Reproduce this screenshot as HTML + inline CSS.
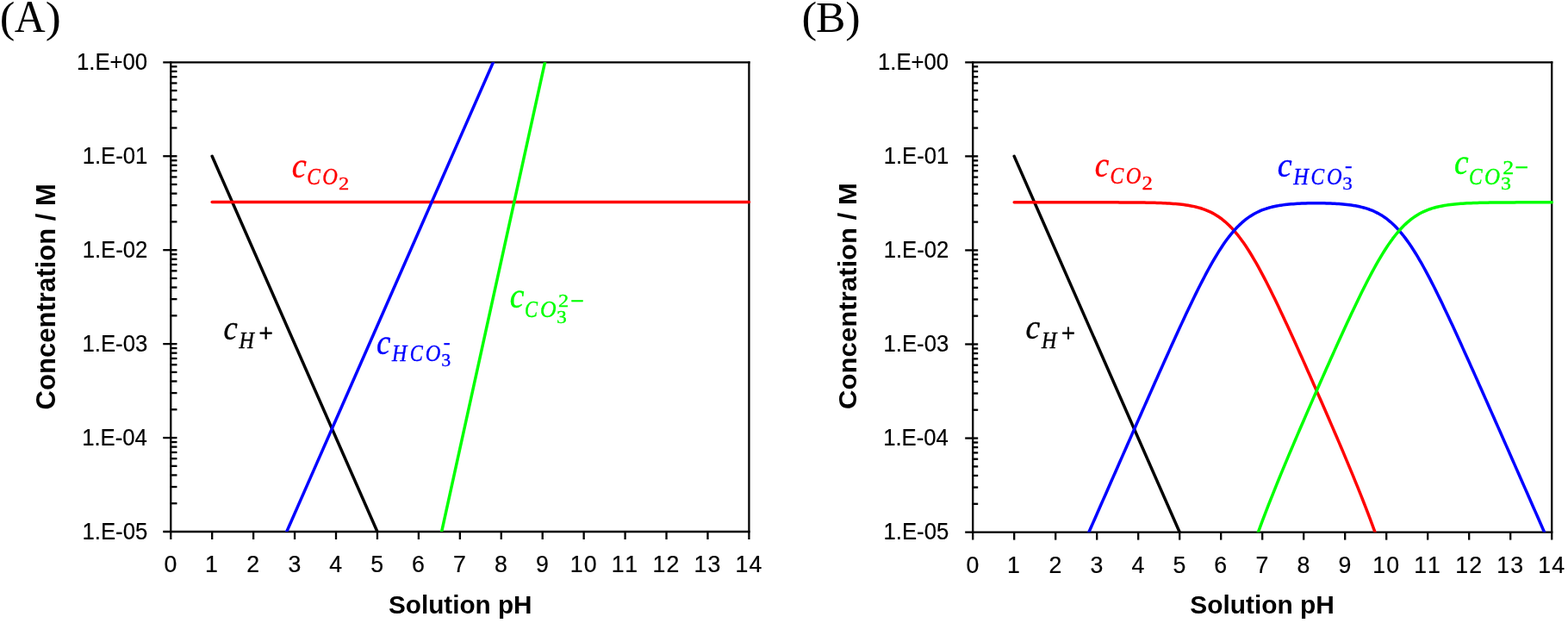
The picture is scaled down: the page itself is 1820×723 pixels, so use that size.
<!DOCTYPE html>
<html><head><meta charset="utf-8"><title>Carbonate speciation vs pH</title>
<style>html,body{margin:0;padding:0;background:#fff;} svg{display:block;}</style></head>
<body><svg width="1820" height="723" viewBox="0 0 1820 723">
<rect width="1820" height="723" fill="#fff"/>
<defs>
<clipPath id="clipA"><rect x="186.25" y="72.30" width="695.16" height="544.70"/></clipPath>
<clipPath id="clipB"><rect x="1117.20" y="72.30" width="696.00" height="545.30"/></clipPath>
</defs>
<g shape-rendering="auto">
<line x1="189.25" y1="72.30" x2="870.56" y2="72.30" stroke="#000" stroke-width="2.3" stroke-linecap="butt"/>
<line x1="189.25" y1="617.00" x2="870.56" y2="617.00" stroke="#000" stroke-width="2.3" stroke-linecap="butt"/>
<line x1="198.25" y1="71.15" x2="198.25" y2="626.00" stroke="#000" stroke-width="2.3" stroke-linecap="butt"/>
<line x1="869.41" y1="71.15" x2="869.41" y2="626.00" stroke="#000" stroke-width="2.3" stroke-linecap="butt"/>
<line x1="189.25" y1="181.24" x2="205.45" y2="181.24" stroke="#000" stroke-width="2.3" stroke-linecap="butt"/>
<line x1="189.25" y1="290.18" x2="205.45" y2="290.18" stroke="#000" stroke-width="2.3" stroke-linecap="butt"/>
<line x1="189.25" y1="399.12" x2="205.45" y2="399.12" stroke="#000" stroke-width="2.3" stroke-linecap="butt"/>
<line x1="189.25" y1="508.06" x2="205.45" y2="508.06" stroke="#000" stroke-width="2.3" stroke-linecap="butt"/>
<line x1="198.25" y1="148.45" x2="205.45" y2="148.45" stroke="#000" stroke-width="2.3" stroke-linecap="butt"/>
<line x1="198.25" y1="129.26" x2="205.45" y2="129.26" stroke="#000" stroke-width="2.3" stroke-linecap="butt"/>
<line x1="198.25" y1="115.65" x2="205.45" y2="115.65" stroke="#000" stroke-width="2.3" stroke-linecap="butt"/>
<line x1="198.25" y1="105.09" x2="205.45" y2="105.09" stroke="#000" stroke-width="2.3" stroke-linecap="butt"/>
<line x1="198.25" y1="96.47" x2="205.45" y2="96.47" stroke="#000" stroke-width="2.3" stroke-linecap="butt"/>
<line x1="198.25" y1="89.18" x2="205.45" y2="89.18" stroke="#000" stroke-width="2.3" stroke-linecap="butt"/>
<line x1="198.25" y1="82.86" x2="205.45" y2="82.86" stroke="#000" stroke-width="2.3" stroke-linecap="butt"/>
<line x1="198.25" y1="77.28" x2="205.45" y2="77.28" stroke="#000" stroke-width="2.3" stroke-linecap="butt"/>
<line x1="198.25" y1="257.39" x2="205.45" y2="257.39" stroke="#000" stroke-width="2.3" stroke-linecap="butt"/>
<line x1="198.25" y1="238.20" x2="205.45" y2="238.20" stroke="#000" stroke-width="2.3" stroke-linecap="butt"/>
<line x1="198.25" y1="224.59" x2="205.45" y2="224.59" stroke="#000" stroke-width="2.3" stroke-linecap="butt"/>
<line x1="198.25" y1="214.03" x2="205.45" y2="214.03" stroke="#000" stroke-width="2.3" stroke-linecap="butt"/>
<line x1="198.25" y1="205.41" x2="205.45" y2="205.41" stroke="#000" stroke-width="2.3" stroke-linecap="butt"/>
<line x1="198.25" y1="198.12" x2="205.45" y2="198.12" stroke="#000" stroke-width="2.3" stroke-linecap="butt"/>
<line x1="198.25" y1="191.80" x2="205.45" y2="191.80" stroke="#000" stroke-width="2.3" stroke-linecap="butt"/>
<line x1="198.25" y1="186.22" x2="205.45" y2="186.22" stroke="#000" stroke-width="2.3" stroke-linecap="butt"/>
<line x1="198.25" y1="366.33" x2="205.45" y2="366.33" stroke="#000" stroke-width="2.3" stroke-linecap="butt"/>
<line x1="198.25" y1="347.14" x2="205.45" y2="347.14" stroke="#000" stroke-width="2.3" stroke-linecap="butt"/>
<line x1="198.25" y1="333.53" x2="205.45" y2="333.53" stroke="#000" stroke-width="2.3" stroke-linecap="butt"/>
<line x1="198.25" y1="322.97" x2="205.45" y2="322.97" stroke="#000" stroke-width="2.3" stroke-linecap="butt"/>
<line x1="198.25" y1="314.35" x2="205.45" y2="314.35" stroke="#000" stroke-width="2.3" stroke-linecap="butt"/>
<line x1="198.25" y1="307.06" x2="205.45" y2="307.06" stroke="#000" stroke-width="2.3" stroke-linecap="butt"/>
<line x1="198.25" y1="300.74" x2="205.45" y2="300.74" stroke="#000" stroke-width="2.3" stroke-linecap="butt"/>
<line x1="198.25" y1="295.16" x2="205.45" y2="295.16" stroke="#000" stroke-width="2.3" stroke-linecap="butt"/>
<line x1="198.25" y1="475.27" x2="205.45" y2="475.27" stroke="#000" stroke-width="2.3" stroke-linecap="butt"/>
<line x1="198.25" y1="456.08" x2="205.45" y2="456.08" stroke="#000" stroke-width="2.3" stroke-linecap="butt"/>
<line x1="198.25" y1="442.47" x2="205.45" y2="442.47" stroke="#000" stroke-width="2.3" stroke-linecap="butt"/>
<line x1="198.25" y1="431.91" x2="205.45" y2="431.91" stroke="#000" stroke-width="2.3" stroke-linecap="butt"/>
<line x1="198.25" y1="423.29" x2="205.45" y2="423.29" stroke="#000" stroke-width="2.3" stroke-linecap="butt"/>
<line x1="198.25" y1="416.00" x2="205.45" y2="416.00" stroke="#000" stroke-width="2.3" stroke-linecap="butt"/>
<line x1="198.25" y1="409.68" x2="205.45" y2="409.68" stroke="#000" stroke-width="2.3" stroke-linecap="butt"/>
<line x1="198.25" y1="404.10" x2="205.45" y2="404.10" stroke="#000" stroke-width="2.3" stroke-linecap="butt"/>
<line x1="198.25" y1="584.21" x2="205.45" y2="584.21" stroke="#000" stroke-width="2.3" stroke-linecap="butt"/>
<line x1="198.25" y1="565.02" x2="205.45" y2="565.02" stroke="#000" stroke-width="2.3" stroke-linecap="butt"/>
<line x1="198.25" y1="551.41" x2="205.45" y2="551.41" stroke="#000" stroke-width="2.3" stroke-linecap="butt"/>
<line x1="198.25" y1="540.85" x2="205.45" y2="540.85" stroke="#000" stroke-width="2.3" stroke-linecap="butt"/>
<line x1="198.25" y1="532.23" x2="205.45" y2="532.23" stroke="#000" stroke-width="2.3" stroke-linecap="butt"/>
<line x1="198.25" y1="524.94" x2="205.45" y2="524.94" stroke="#000" stroke-width="2.3" stroke-linecap="butt"/>
<line x1="198.25" y1="518.62" x2="205.45" y2="518.62" stroke="#000" stroke-width="2.3" stroke-linecap="butt"/>
<line x1="198.25" y1="513.04" x2="205.45" y2="513.04" stroke="#000" stroke-width="2.3" stroke-linecap="butt"/>
<line x1="246.19" y1="617.00" x2="246.19" y2="626.00" stroke="#000" stroke-width="2.3" stroke-linecap="butt"/>
<line x1="294.13" y1="617.00" x2="294.13" y2="626.00" stroke="#000" stroke-width="2.3" stroke-linecap="butt"/>
<line x1="342.07" y1="617.00" x2="342.07" y2="626.00" stroke="#000" stroke-width="2.3" stroke-linecap="butt"/>
<line x1="390.01" y1="617.00" x2="390.01" y2="626.00" stroke="#000" stroke-width="2.3" stroke-linecap="butt"/>
<line x1="437.95" y1="617.00" x2="437.95" y2="626.00" stroke="#000" stroke-width="2.3" stroke-linecap="butt"/>
<line x1="485.89" y1="617.00" x2="485.89" y2="626.00" stroke="#000" stroke-width="2.3" stroke-linecap="butt"/>
<line x1="533.83" y1="617.00" x2="533.83" y2="626.00" stroke="#000" stroke-width="2.3" stroke-linecap="butt"/>
<line x1="581.77" y1="617.00" x2="581.77" y2="626.00" stroke="#000" stroke-width="2.3" stroke-linecap="butt"/>
<line x1="629.71" y1="617.00" x2="629.71" y2="626.00" stroke="#000" stroke-width="2.3" stroke-linecap="butt"/>
<line x1="677.65" y1="617.00" x2="677.65" y2="626.00" stroke="#000" stroke-width="2.3" stroke-linecap="butt"/>
<line x1="725.59" y1="617.00" x2="725.59" y2="626.00" stroke="#000" stroke-width="2.3" stroke-linecap="butt"/>
<line x1="773.53" y1="617.00" x2="773.53" y2="626.00" stroke="#000" stroke-width="2.3" stroke-linecap="butt"/>
<line x1="821.47" y1="617.00" x2="821.47" y2="626.00" stroke="#000" stroke-width="2.3" stroke-linecap="butt"/>
<line x1="1120.20" y1="72.30" x2="1802.35" y2="72.30" stroke="#000" stroke-width="2.3" stroke-linecap="butt"/>
<line x1="1120.20" y1="617.60" x2="1802.35" y2="617.60" stroke="#000" stroke-width="2.3" stroke-linecap="butt"/>
<line x1="1129.20" y1="71.15" x2="1129.20" y2="626.60" stroke="#000" stroke-width="2.3" stroke-linecap="butt"/>
<line x1="1801.20" y1="71.15" x2="1801.20" y2="626.60" stroke="#000" stroke-width="2.3" stroke-linecap="butt"/>
<line x1="1120.20" y1="181.36" x2="1135.20" y2="181.36" stroke="#000" stroke-width="2.3" stroke-linecap="butt"/>
<line x1="1120.20" y1="290.42" x2="1135.20" y2="290.42" stroke="#000" stroke-width="2.3" stroke-linecap="butt"/>
<line x1="1120.20" y1="399.48" x2="1135.20" y2="399.48" stroke="#000" stroke-width="2.3" stroke-linecap="butt"/>
<line x1="1120.20" y1="508.54" x2="1135.20" y2="508.54" stroke="#000" stroke-width="2.3" stroke-linecap="butt"/>
<line x1="1129.20" y1="148.53" x2="1135.20" y2="148.53" stroke="#000" stroke-width="2.3" stroke-linecap="butt"/>
<line x1="1129.20" y1="129.33" x2="1135.20" y2="129.33" stroke="#000" stroke-width="2.3" stroke-linecap="butt"/>
<line x1="1129.20" y1="115.70" x2="1135.20" y2="115.70" stroke="#000" stroke-width="2.3" stroke-linecap="butt"/>
<line x1="1129.20" y1="105.13" x2="1135.20" y2="105.13" stroke="#000" stroke-width="2.3" stroke-linecap="butt"/>
<line x1="1129.20" y1="96.49" x2="1135.20" y2="96.49" stroke="#000" stroke-width="2.3" stroke-linecap="butt"/>
<line x1="1129.20" y1="89.19" x2="1135.20" y2="89.19" stroke="#000" stroke-width="2.3" stroke-linecap="butt"/>
<line x1="1129.20" y1="82.87" x2="1135.20" y2="82.87" stroke="#000" stroke-width="2.3" stroke-linecap="butt"/>
<line x1="1129.20" y1="77.29" x2="1135.20" y2="77.29" stroke="#000" stroke-width="2.3" stroke-linecap="butt"/>
<line x1="1129.20" y1="257.59" x2="1135.20" y2="257.59" stroke="#000" stroke-width="2.3" stroke-linecap="butt"/>
<line x1="1129.20" y1="238.39" x2="1135.20" y2="238.39" stroke="#000" stroke-width="2.3" stroke-linecap="butt"/>
<line x1="1129.20" y1="224.76" x2="1135.20" y2="224.76" stroke="#000" stroke-width="2.3" stroke-linecap="butt"/>
<line x1="1129.20" y1="214.19" x2="1135.20" y2="214.19" stroke="#000" stroke-width="2.3" stroke-linecap="butt"/>
<line x1="1129.20" y1="205.55" x2="1135.20" y2="205.55" stroke="#000" stroke-width="2.3" stroke-linecap="butt"/>
<line x1="1129.20" y1="198.25" x2="1135.20" y2="198.25" stroke="#000" stroke-width="2.3" stroke-linecap="butt"/>
<line x1="1129.20" y1="191.93" x2="1135.20" y2="191.93" stroke="#000" stroke-width="2.3" stroke-linecap="butt"/>
<line x1="1129.20" y1="186.35" x2="1135.20" y2="186.35" stroke="#000" stroke-width="2.3" stroke-linecap="butt"/>
<line x1="1129.20" y1="366.65" x2="1135.20" y2="366.65" stroke="#000" stroke-width="2.3" stroke-linecap="butt"/>
<line x1="1129.20" y1="347.45" x2="1135.20" y2="347.45" stroke="#000" stroke-width="2.3" stroke-linecap="butt"/>
<line x1="1129.20" y1="333.82" x2="1135.20" y2="333.82" stroke="#000" stroke-width="2.3" stroke-linecap="butt"/>
<line x1="1129.20" y1="323.25" x2="1135.20" y2="323.25" stroke="#000" stroke-width="2.3" stroke-linecap="butt"/>
<line x1="1129.20" y1="314.61" x2="1135.20" y2="314.61" stroke="#000" stroke-width="2.3" stroke-linecap="butt"/>
<line x1="1129.20" y1="307.31" x2="1135.20" y2="307.31" stroke="#000" stroke-width="2.3" stroke-linecap="butt"/>
<line x1="1129.20" y1="300.99" x2="1135.20" y2="300.99" stroke="#000" stroke-width="2.3" stroke-linecap="butt"/>
<line x1="1129.20" y1="295.41" x2="1135.20" y2="295.41" stroke="#000" stroke-width="2.3" stroke-linecap="butt"/>
<line x1="1129.20" y1="475.71" x2="1135.20" y2="475.71" stroke="#000" stroke-width="2.3" stroke-linecap="butt"/>
<line x1="1129.20" y1="456.51" x2="1135.20" y2="456.51" stroke="#000" stroke-width="2.3" stroke-linecap="butt"/>
<line x1="1129.20" y1="442.88" x2="1135.20" y2="442.88" stroke="#000" stroke-width="2.3" stroke-linecap="butt"/>
<line x1="1129.20" y1="432.31" x2="1135.20" y2="432.31" stroke="#000" stroke-width="2.3" stroke-linecap="butt"/>
<line x1="1129.20" y1="423.67" x2="1135.20" y2="423.67" stroke="#000" stroke-width="2.3" stroke-linecap="butt"/>
<line x1="1129.20" y1="416.37" x2="1135.20" y2="416.37" stroke="#000" stroke-width="2.3" stroke-linecap="butt"/>
<line x1="1129.20" y1="410.05" x2="1135.20" y2="410.05" stroke="#000" stroke-width="2.3" stroke-linecap="butt"/>
<line x1="1129.20" y1="404.47" x2="1135.20" y2="404.47" stroke="#000" stroke-width="2.3" stroke-linecap="butt"/>
<line x1="1129.20" y1="584.77" x2="1135.20" y2="584.77" stroke="#000" stroke-width="2.3" stroke-linecap="butt"/>
<line x1="1129.20" y1="565.57" x2="1135.20" y2="565.57" stroke="#000" stroke-width="2.3" stroke-linecap="butt"/>
<line x1="1129.20" y1="551.94" x2="1135.20" y2="551.94" stroke="#000" stroke-width="2.3" stroke-linecap="butt"/>
<line x1="1129.20" y1="541.37" x2="1135.20" y2="541.37" stroke="#000" stroke-width="2.3" stroke-linecap="butt"/>
<line x1="1129.20" y1="532.73" x2="1135.20" y2="532.73" stroke="#000" stroke-width="2.3" stroke-linecap="butt"/>
<line x1="1129.20" y1="525.43" x2="1135.20" y2="525.43" stroke="#000" stroke-width="2.3" stroke-linecap="butt"/>
<line x1="1129.20" y1="519.11" x2="1135.20" y2="519.11" stroke="#000" stroke-width="2.3" stroke-linecap="butt"/>
<line x1="1129.20" y1="513.53" x2="1135.20" y2="513.53" stroke="#000" stroke-width="2.3" stroke-linecap="butt"/>
<line x1="1177.20" y1="617.60" x2="1177.20" y2="626.60" stroke="#000" stroke-width="2.3" stroke-linecap="butt"/>
<line x1="1225.20" y1="617.60" x2="1225.20" y2="626.60" stroke="#000" stroke-width="2.3" stroke-linecap="butt"/>
<line x1="1273.20" y1="617.60" x2="1273.20" y2="626.60" stroke="#000" stroke-width="2.3" stroke-linecap="butt"/>
<line x1="1321.20" y1="617.60" x2="1321.20" y2="626.60" stroke="#000" stroke-width="2.3" stroke-linecap="butt"/>
<line x1="1369.20" y1="617.60" x2="1369.20" y2="626.60" stroke="#000" stroke-width="2.3" stroke-linecap="butt"/>
<line x1="1417.20" y1="617.60" x2="1417.20" y2="626.60" stroke="#000" stroke-width="2.3" stroke-linecap="butt"/>
<line x1="1465.20" y1="617.60" x2="1465.20" y2="626.60" stroke="#000" stroke-width="2.3" stroke-linecap="butt"/>
<line x1="1513.20" y1="617.60" x2="1513.20" y2="626.60" stroke="#000" stroke-width="2.3" stroke-linecap="butt"/>
<line x1="1561.20" y1="617.60" x2="1561.20" y2="626.60" stroke="#000" stroke-width="2.3" stroke-linecap="butt"/>
<line x1="1609.20" y1="617.60" x2="1609.20" y2="626.60" stroke="#000" stroke-width="2.3" stroke-linecap="butt"/>
<line x1="1657.20" y1="617.60" x2="1657.20" y2="626.60" stroke="#000" stroke-width="2.3" stroke-linecap="butt"/>
<line x1="1705.20" y1="617.60" x2="1705.20" y2="626.60" stroke="#000" stroke-width="2.3" stroke-linecap="butt"/>
<line x1="1753.20" y1="617.60" x2="1753.20" y2="626.60" stroke="#000" stroke-width="2.3" stroke-linecap="butt"/>
<path d="M246.19,181.24 L441.79,625.72" fill="none" stroke="#000000" stroke-width="3.5" stroke-linecap="round" stroke-linejoin="round" clip-path="url(#clipA)"/>
<path d="M246.19,234.62 L869.41,234.62" fill="none" stroke="#ff0000" stroke-width="3.5" stroke-linecap="round" stroke-linejoin="round" clip-path="url(#clipA)"/>
<path d="M328.93,625.72 L366.04,541.40 L533.83,160.11 L576.30,63.58" fill="none" stroke="#0000ff" stroke-width="3.5" stroke-linecap="round" stroke-linejoin="round" clip-path="url(#clipA)"/>
<path d="M510.72,625.72 L533.83,520.70 L634.41,63.58" fill="none" stroke="#00ff00" stroke-width="3.5" stroke-linecap="round" stroke-linejoin="round" clip-path="url(#clipA)"/>
<path d="M1177.20,181.36 L1373.04,626.32" fill="none" stroke="#000000" stroke-width="3.5" stroke-linecap="round" stroke-linejoin="round" clip-path="url(#clipB)"/>
<path d="M1177.20,234.80 L1179.60,234.80 L1182.00,234.80 L1184.40,234.80 L1186.80,234.80 L1189.20,234.80 L1191.60,234.80 L1194.00,234.80 L1196.40,234.80 L1198.80,234.80 L1201.20,234.80 L1203.60,234.80 L1206.00,234.80 L1208.40,234.80 L1210.80,234.80 L1213.20,234.80 L1215.60,234.80 L1218.00,234.80 L1220.40,234.80 L1222.80,234.80 L1225.20,234.80 L1227.60,234.80 L1230.00,234.80 L1232.40,234.80 L1234.80,234.80 L1237.20,234.80 L1239.60,234.80 L1242.00,234.80 L1244.40,234.81 L1246.80,234.81 L1249.20,234.81 L1251.60,234.81 L1254.00,234.81 L1256.40,234.81 L1258.80,234.81 L1261.20,234.81 L1263.60,234.81 L1266.00,234.82 L1268.40,234.82 L1270.80,234.82 L1273.20,234.82 L1275.60,234.83 L1278.00,234.83 L1280.40,234.83 L1282.80,234.84 L1285.20,234.84 L1287.60,234.85 L1290.00,234.85 L1292.40,234.86 L1294.80,234.86 L1297.20,234.87 L1299.60,234.88 L1302.00,234.89 L1304.40,234.90 L1306.80,234.91 L1309.20,234.93 L1311.60,234.94 L1314.00,234.96 L1316.40,234.98 L1318.80,235.00 L1321.20,235.03 L1323.60,235.06 L1326.00,235.09 L1328.40,235.12 L1330.80,235.16 L1333.20,235.20 L1335.60,235.25 L1338.00,235.31 L1340.40,235.37 L1342.80,235.44 L1345.20,235.52 L1347.60,235.60 L1350.00,235.70 L1352.40,235.81 L1354.80,235.93 L1357.20,236.07 L1359.60,236.22 L1362.00,236.39 L1364.40,236.58 L1366.80,236.80 L1369.20,237.03 L1371.60,237.30 L1374.00,237.60 L1376.40,237.93 L1378.80,238.29 L1381.20,238.70 L1383.60,239.16 L1386.00,239.66 L1388.40,240.22 L1390.80,240.85 L1393.20,241.53 L1395.60,242.29 L1398.00,243.13 L1400.40,244.05 L1402.80,245.07 L1405.20,246.18 L1407.60,247.40 L1410.00,248.73 L1412.40,250.18 L1414.80,251.76 L1417.20,253.47 L1419.60,255.31 L1422.00,257.30 L1424.40,259.44 L1426.80,261.73 L1429.20,264.17 L1431.60,266.77 L1434.00,269.52 L1436.40,272.43 L1438.80,275.50 L1441.20,278.72 L1443.60,282.09 L1446.00,285.61 L1448.40,289.27 L1450.80,293.06 L1453.20,296.99 L1455.60,301.03 L1458.00,305.20 L1460.40,309.47 L1462.80,313.85 L1465.20,318.33 L1467.60,322.89 L1470.00,327.54 L1472.40,332.26 L1474.80,337.06 L1477.20,341.91 L1479.60,346.83 L1482.00,351.80 L1484.40,356.83 L1486.80,361.89 L1489.20,367.00 L1491.60,372.14 L1494.00,377.32 L1496.40,382.53 L1498.80,387.77 L1501.20,393.03 L1503.60,398.31 L1506.00,403.62 L1508.40,408.95 L1510.80,414.29 L1513.20,419.65 L1515.60,425.03 L1518.00,430.42 L1520.40,435.83 L1522.80,441.24 L1525.20,446.68 L1527.60,452.12 L1530.00,457.58 L1532.40,463.04 L1534.80,468.52 L1537.20,474.02 L1539.60,479.53 L1542.00,485.05 L1544.40,490.58 L1546.80,496.14 L1549.20,501.71 L1551.60,507.30 L1554.00,512.91 L1556.40,518.54 L1558.80,524.19 L1561.20,529.87 L1563.60,535.59 L1566.00,541.33 L1568.40,547.11 L1570.80,552.93 L1573.20,558.79 L1575.60,564.70 L1578.00,570.65 L1580.40,576.67 L1582.80,582.75 L1585.20,588.89 L1587.60,595.11 L1590.00,601.41 L1592.40,607.79 L1594.80,614.27 L1597.20,620.85 L1599.17,626.32" fill="none" stroke="#ff0000" stroke-width="3.5" stroke-linecap="round" stroke-linejoin="round" clip-path="url(#clipB)"/>
<path d="M1260.05,626.32 L1261.20,623.72 L1263.60,618.27 L1266.00,612.82 L1268.40,607.37 L1270.80,601.92 L1273.20,596.47 L1275.60,591.02 L1278.00,585.57 L1280.40,580.12 L1282.80,574.67 L1285.20,569.22 L1287.60,563.77 L1290.00,558.32 L1292.40,552.88 L1294.80,547.43 L1297.20,541.98 L1299.60,536.54 L1302.00,531.10 L1304.40,525.66 L1306.80,520.21 L1309.20,514.78 L1311.60,509.34 L1314.00,503.90 L1316.40,498.47 L1318.80,493.04 L1321.20,487.61 L1323.60,482.19 L1326.00,476.76 L1328.40,471.35 L1330.80,465.93 L1333.20,460.52 L1335.60,455.12 L1338.00,449.72 L1340.40,444.33 L1342.80,438.95 L1345.20,433.57 L1347.60,428.20 L1350.00,422.85 L1352.40,417.50 L1354.80,412.17 L1357.20,406.86 L1359.60,401.56 L1362.00,396.27 L1364.40,391.01 L1366.80,385.77 L1369.20,380.56 L1371.60,375.37 L1374.00,370.21 L1376.40,365.09 L1378.80,360.00 L1381.20,354.96 L1383.60,349.96 L1386.00,345.02 L1388.40,340.12 L1390.80,335.29 L1393.20,330.53 L1395.60,325.83 L1398.00,321.22 L1400.40,316.69 L1402.80,312.25 L1405.20,307.91 L1407.60,303.68 L1410.00,299.55 L1412.40,295.55 L1414.80,291.67 L1417.20,287.93 L1419.60,284.32 L1422.00,280.86 L1424.40,277.54 L1426.80,274.38 L1429.20,271.37 L1431.60,268.51 L1434.00,265.81 L1436.40,263.27 L1438.80,260.89 L1441.20,258.66 L1443.60,256.57 L1446.00,254.64 L1448.40,252.84 L1450.80,251.18 L1453.20,249.65 L1455.60,248.25 L1458.00,246.96 L1460.40,245.78 L1462.80,244.71 L1465.20,243.73 L1467.60,242.84 L1470.00,242.04 L1472.40,241.31 L1474.80,240.65 L1477.20,240.05 L1479.60,239.52 L1482.00,239.04 L1484.40,238.60 L1486.80,238.22 L1489.20,237.87 L1491.60,237.56 L1494.00,237.29 L1496.40,237.04 L1498.80,236.83 L1501.20,236.64 L1503.60,236.47 L1506.00,236.32 L1508.40,236.20 L1510.80,236.09 L1513.20,236.00 L1515.60,235.92 L1518.00,235.86 L1520.40,235.81 L1522.80,235.78 L1525.20,235.75 L1527.60,235.74 L1530.00,235.75 L1532.40,235.76 L1534.80,235.79 L1537.20,235.83 L1539.60,235.89 L1542.00,235.96 L1544.40,236.04 L1546.80,236.14 L1549.20,236.26 L1551.60,236.39 L1554.00,236.55 L1556.40,236.73 L1558.80,236.93 L1561.20,237.16 L1563.60,237.42 L1566.00,237.71 L1568.40,238.03 L1570.80,238.40 L1573.20,238.81 L1575.60,239.26 L1578.00,239.77 L1580.40,240.33 L1582.80,240.95 L1585.20,241.65 L1587.60,242.41 L1590.00,243.26 L1592.40,244.19 L1594.80,245.21 L1597.20,246.34 L1599.60,247.57 L1602.00,248.91 L1604.40,250.37 L1606.80,251.96 L1609.20,253.69 L1611.60,255.55 L1614.00,257.55 L1616.40,259.71 L1618.80,262.01 L1621.20,264.47 L1623.60,267.09 L1626.00,269.86 L1628.40,272.79 L1630.80,275.88 L1633.20,279.12 L1635.60,282.50 L1638.00,286.04 L1640.40,289.71 L1642.80,293.52 L1645.20,297.46 L1647.60,301.52 L1650.00,305.69 L1652.40,309.98 L1654.80,314.37 L1657.20,318.85 L1659.60,323.42 L1662.00,328.08 L1664.40,332.80 L1666.80,337.60 L1669.20,342.46 L1671.60,347.38 L1674.00,352.36 L1676.40,357.38 L1678.80,362.44 L1681.20,367.54 L1683.60,372.68 L1686.00,377.86 L1688.40,383.06 L1690.80,388.28 L1693.20,393.54 L1695.60,398.81 L1698.00,404.10 L1700.40,409.41 L1702.80,414.73 L1705.20,420.07 L1707.60,425.42 L1710.00,430.78 L1712.40,436.15 L1714.80,441.53 L1717.20,446.92 L1719.60,452.31 L1722.00,457.71 L1724.40,463.12 L1726.80,468.53 L1729.20,473.95 L1731.60,479.37 L1734.00,484.79 L1736.40,490.22 L1738.80,495.65 L1741.20,501.08 L1743.60,506.51 L1746.00,511.95 L1748.40,517.39 L1750.80,522.83 L1753.20,528.27 L1755.60,533.71 L1758.00,539.15 L1760.40,544.60 L1762.80,550.04 L1765.20,555.49 L1767.60,560.94 L1770.00,566.38 L1772.40,571.83 L1774.80,577.28 L1777.20,582.73 L1779.60,588.18 L1782.00,593.63 L1784.40,599.08 L1786.80,604.53 L1789.20,609.98 L1791.60,615.43 L1794.00,620.89 L1796.39,626.32" fill="none" stroke="#0000ff" stroke-width="3.5" stroke-linecap="round" stroke-linejoin="round" clip-path="url(#clipB)"/>
<path d="M1457.28,626.32 L1458.00,624.31 L1460.40,617.68 L1462.80,611.15 L1465.20,604.72 L1467.60,598.38 L1470.00,592.12 L1472.40,585.94 L1474.80,579.82 L1477.20,573.78 L1479.60,567.79 L1482.00,561.85 L1484.40,555.97 L1486.80,550.13 L1489.20,544.33 L1491.60,538.57 L1494.00,532.84 L1496.40,527.14 L1498.80,521.47 L1501.20,515.83 L1503.60,510.21 L1506.00,504.61 L1508.40,499.03 L1510.80,493.47 L1513.20,487.93 L1515.60,482.40 L1518.00,476.88 L1520.40,471.38 L1522.80,465.89 L1525.20,460.42 L1527.60,454.95 L1530.00,449.50 L1532.40,444.07 L1534.80,438.64 L1537.20,433.23 L1539.60,427.83 L1542.00,422.45 L1544.40,417.08 L1546.80,411.73 L1549.20,406.39 L1551.60,401.07 L1554.00,395.78 L1556.40,390.50 L1558.80,385.25 L1561.20,380.03 L1563.60,374.83 L1566.00,369.67 L1568.40,364.54 L1570.80,359.45 L1573.20,354.41 L1575.60,349.41 L1578.00,344.46 L1580.40,339.57 L1582.80,334.75 L1585.20,329.99 L1587.60,325.30 L1590.00,320.69 L1592.40,316.17 L1594.80,311.74 L1597.20,307.41 L1599.60,303.19 L1602.00,299.08 L1604.40,295.09 L1606.80,291.22 L1609.20,287.50 L1611.60,283.90 L1614.00,280.46 L1616.40,277.16 L1618.80,274.01 L1621.20,271.02 L1623.60,268.18 L1626.00,265.50 L1628.40,262.98 L1630.80,260.61 L1633.20,258.39 L1635.60,256.33 L1638.00,254.41 L1640.40,252.63 L1642.80,250.99 L1645.20,249.47 L1647.60,248.08 L1650.00,246.80 L1652.40,245.63 L1654.80,244.57 L1657.20,243.60 L1659.60,242.72 L1662.00,241.92 L1664.40,241.19 L1666.80,240.54 L1669.20,239.95 L1671.60,239.41 L1674.00,238.93 L1676.40,238.50 L1678.80,238.11 L1681.20,237.76 L1683.60,237.45 L1686.00,237.17 L1688.40,236.92 L1690.80,236.69 L1693.20,236.49 L1695.60,236.31 L1698.00,236.15 L1700.40,236.00 L1702.80,235.87 L1705.20,235.76 L1707.60,235.65 L1710.00,235.56 L1712.40,235.48 L1714.80,235.41 L1717.20,235.34 L1719.60,235.28 L1722.00,235.23 L1724.40,235.18 L1726.80,235.14 L1729.20,235.10 L1731.60,235.07 L1734.00,235.04 L1736.40,235.02 L1738.80,234.99 L1741.20,234.97 L1743.60,234.95 L1746.00,234.94 L1748.40,234.92 L1750.80,234.91 L1753.20,234.90 L1755.60,234.89 L1758.00,234.88 L1760.40,234.87 L1762.80,234.86 L1765.20,234.85 L1767.60,234.85 L1770.00,234.84 L1772.40,234.84 L1774.80,234.83 L1777.20,234.83 L1779.60,234.83 L1782.00,234.82 L1784.40,234.82 L1786.80,234.82 L1789.20,234.82 L1791.60,234.81 L1794.00,234.81 L1796.40,234.81 L1798.80,234.81 L1801.20,234.81" fill="none" stroke="#00ff00" stroke-width="3.5" stroke-linecap="round" stroke-linejoin="round" clip-path="url(#clipB)"/>
</g>
<g>
<text transform="matrix(0.26415,0,0,0.25275,-0.313,36.832)" font-family="'Liberation Serif', 'Times New Roman', serif" font-size="200" fill="#000">(</text><text transform="matrix(0.24859,0,0,0.26061,16.751,36.639)" font-family="'Liberation Serif', 'Times New Roman', serif" font-size="200" fill="#000">A</text><text transform="matrix(0.27115,0,0,0.25055,52.773,36.926)" font-family="'Liberation Serif', 'Times New Roman', serif" font-size="200" fill="#000">)</text>
<text transform="matrix(0.26604,0,0,0.25275,930.472,36.832)" font-family="'Liberation Serif', 'Times New Roman', serif" font-size="200" fill="#000">(</text><text transform="matrix(0.25798,0,0,0.25649,946.910,36.900)" font-family="'Liberation Serif', 'Times New Roman', serif" font-size="200" fill="#000">B</text><text transform="matrix(0.26154,0,0,0.25055,981.131,36.926)" font-family="'Liberation Serif', 'Times New Roman', serif" font-size="200" fill="#000">)</text>
<text transform="matrix(0.14852,0,0,0.15180,450.957,712.300)" font-family="'Liberation Sans', Arial, sans-serif" font-size="200" font-weight="bold" fill="#000">Solution pH</text>
<text transform="matrix(0.14934,0,0,0.15180,1381.253,712.300)" font-family="'Liberation Sans', Arial, sans-serif" font-size="200" font-weight="bold" fill="#000">Solution pH</text>
<text transform="matrix(0,-0.15543,0.15468,0,63.900,475.443)" font-family="'Liberation Sans', Arial, sans-serif" font-size="200" font-weight="bold" fill="#000">Concentration / M</text>
<text transform="matrix(0,-0.15573,0.15108,0,994.400,474.946)" font-family="'Liberation Sans', Arial, sans-serif" font-size="200" font-weight="bold" fill="#000">Concentration / M</text>
<text transform="matrix(0.18333,0,0,0.19740,259.575,393.830)" font-family="'Liberation Serif', 'Times New Roman', serif" font-size="200" font-style="italic" fill="#000" stroke="#000" stroke-width="1.839" stroke-linejoin="round">c</text><text transform="matrix(0.12070,0,0,0.13473,277.537,404.425)" font-family="'Liberation Serif', 'Times New Roman', serif" font-size="200" font-style="italic" fill="#000" stroke="#000" stroke-width="2.740" stroke-linejoin="round">H</text><text transform="matrix(0.14421,0,0,0.14255,300.602,396.209)" font-family="'Liberation Serif', 'Times New Roman', serif" font-size="200" fill="#000" stroke="#000" stroke-width="5.580" stroke-linejoin="round">+</text>
<text transform="matrix(0.19198,0,0,0.19948,338.823,205.526)" font-family="'Liberation Serif', 'Times New Roman', serif" font-size="200" font-style="italic" fill="#ff0000" stroke="#ff0000" stroke-width="1.788" stroke-linejoin="round">c</text><text transform="matrix(0.11720,0,0,0.13694,356.186,214.351)" font-family="'Liberation Serif', 'Times New Roman', serif" font-size="200" font-style="italic" fill="#ff0000" stroke="#ff0000" stroke-width="2.754" stroke-linejoin="round">C</text><text transform="matrix(0.12192,0,0,0.13694,374.156,214.351)" font-family="'Liberation Serif', 'Times New Roman', serif" font-size="200" font-style="italic" fill="#ff0000" stroke="#ff0000" stroke-width="2.704" stroke-linejoin="round">O</text><text transform="matrix(0.12284,0,0,0.10720,393.092,220.025)" font-family="'Liberation Serif', 'Times New Roman', serif" font-size="200" fill="#ff0000" stroke="#ff0000" stroke-width="3.043" stroke-linejoin="round">2</text>
<text transform="matrix(0.18457,0,0,0.19531,436.968,410.534)" font-family="'Liberation Serif', 'Times New Roman', serif" font-size="200" font-style="italic" fill="#0000ff" stroke="#0000ff" stroke-width="1.843" stroke-linejoin="round">c</text><text transform="matrix(0.11943,0,0,0.13550,455.033,418.825)" font-family="'Liberation Serif', 'Times New Roman', serif" font-size="200" font-style="italic" fill="#0000ff" stroke="#0000ff" stroke-width="2.746" stroke-linejoin="round">H</text><text transform="matrix(0.11320,0,0,0.13545,475.830,418.754)" font-family="'Liberation Serif', 'Times New Roman', serif" font-size="200" font-style="italic" fill="#0000ff" stroke="#0000ff" stroke-width="2.815" stroke-linejoin="round">C</text><text transform="matrix(0.12192,0,0,0.13545,493.656,418.754)" font-family="'Liberation Serif', 'Times New Roman', serif" font-size="200" font-style="italic" fill="#0000ff" stroke="#0000ff" stroke-width="2.720" stroke-linejoin="round">O</text><text transform="matrix(0.10893,0,0,0.09963,512.195,425.226)" font-family="'Liberation Serif', 'Times New Roman', serif" font-size="200" fill="#0000ff" stroke="#0000ff" stroke-width="3.356" stroke-linejoin="round">3</text><text transform="matrix(0.11792,0,0,0.11667,514.850,404.992)" font-family="'Liberation Serif', 'Times New Roman', serif" font-size="200" fill="#0000ff" stroke="#0000ff" stroke-width="2.984" stroke-linejoin="round">-</text>
<text transform="matrix(0.18827,0,0,0.20052,591.645,356.624)" font-family="'Liberation Serif', 'Times New Roman', serif" font-size="200" font-style="italic" fill="#00ff00" stroke="#00ff00" stroke-width="1.800" stroke-linejoin="round">c</text><text transform="matrix(0.11240,0,0,0.13321,609.039,367.959)" font-family="'Liberation Serif', 'Times New Roman', serif" font-size="200" font-style="italic" fill="#00ff00" stroke="#00ff00" stroke-width="2.850" stroke-linejoin="round">C</text><text transform="matrix(0.12885,0,0,0.13321,626.887,367.959)" font-family="'Liberation Serif', 'Times New Roman', serif" font-size="200" font-style="italic" fill="#00ff00" stroke="#00ff00" stroke-width="2.671" stroke-linejoin="round">O</text><text transform="matrix(0.12160,0,0,0.10947,648.102,356.425)" font-family="'Liberation Serif', 'Times New Roman', serif" font-size="200" fill="#00ff00" stroke="#00ff00" stroke-width="3.029" stroke-linejoin="round">2</text><text transform="matrix(0.11726,0,0,0.10187,646.120,374.821)" font-family="'Liberation Serif', 'Times New Roman', serif" font-size="200" fill="#00ff00" stroke="#00ff00" stroke-width="3.194" stroke-linejoin="round">3</text><text transform="matrix(0.14053,0,0,0.15909,662.210,359.730)" font-family="'Liberation Serif', 'Times New Roman', serif" font-size="200" fill="#00ff00" stroke="#00ff00" stroke-width="2.336" stroke-linejoin="round">−</text>
<text transform="matrix(0.18827,0,0,0.19844,1190.445,393.328)" font-family="'Liberation Serif', 'Times New Roman', serif" font-size="200" font-style="italic" fill="#000" stroke="#000" stroke-width="1.810" stroke-linejoin="round">c</text><text transform="matrix(0.12070,0,0,0.13626,1208.937,404.125)" font-family="'Liberation Serif', 'Times New Roman', serif" font-size="200" font-style="italic" fill="#000" stroke="#000" stroke-width="2.724" stroke-linejoin="round">H</text><text transform="matrix(0.14105,0,0,0.14362,1232.031,395.829)" font-family="'Liberation Serif', 'Times New Roman', serif" font-size="200" fill="#000" stroke="#000" stroke-width="5.621" stroke-linejoin="round">+</text>
<text transform="matrix(0.18580,0,0,0.20156,1270.660,205.322)" font-family="'Liberation Serif', 'Times New Roman', serif" font-size="200" font-style="italic" fill="#ff0000" stroke="#ff0000" stroke-width="1.807" stroke-linejoin="round">c</text><text transform="matrix(0.11800,0,0,0.13545,1288.577,213.354)" font-family="'Liberation Serif', 'Times New Roman', serif" font-size="200" font-style="italic" fill="#ff0000" stroke="#ff0000" stroke-width="2.762" stroke-linejoin="round">C</text><text transform="matrix(0.12192,0,0,0.13545,1306.656,213.354)" font-family="'Liberation Serif', 'Times New Roman', serif" font-size="200" font-style="italic" fill="#ff0000" stroke="#ff0000" stroke-width="2.720" stroke-linejoin="round">O</text><text transform="matrix(0.12407,0,0,0.11023,1325.582,219.625)" font-family="'Liberation Serif', 'Times New Roman', serif" font-size="200" fill="#ff0000" stroke="#ff0000" stroke-width="2.988" stroke-linejoin="round">2</text>
<text transform="matrix(0.19074,0,0,0.20156,1482.731,204.922)" font-family="'Liberation Serif', 'Times New Roman', serif" font-size="200" font-style="italic" fill="#0000ff" stroke="#0000ff" stroke-width="1.784" stroke-linejoin="round">c</text><text transform="matrix(0.12197,0,0,0.14160,1501.241,213.825)" font-family="'Liberation Serif', 'Times New Roman', serif" font-size="200" font-style="italic" fill="#0000ff" stroke="#0000ff" stroke-width="2.656" stroke-linejoin="round">H</text><text transform="matrix(0.11720,0,0,0.14142,1521.586,213.742)" font-family="'Liberation Serif', 'Times New Roman', serif" font-size="200" font-style="italic" fill="#0000ff" stroke="#0000ff" stroke-width="2.707" stroke-linejoin="round">C</text><text transform="matrix(0.12192,0,0,0.14142,1539.956,213.742)" font-family="'Liberation Serif', 'Times New Roman', serif" font-size="200" font-style="italic" fill="#0000ff" stroke="#0000ff" stroke-width="2.658" stroke-linejoin="round">O</text><text transform="matrix(0.11488,0,0,0.10709,1558.341,220.411)" font-family="'Liberation Serif', 'Times New Roman', serif" font-size="200" fill="#0000ff" stroke="#0000ff" stroke-width="3.154" stroke-linejoin="round">3</text><text transform="matrix(0.12736,0,0,0.11667,1560.983,199.992)" font-family="'Liberation Serif', 'Times New Roman', serif" font-size="200" fill="#0000ff" stroke="#0000ff" stroke-width="2.869" stroke-linejoin="round">-</text>
<text transform="matrix(0.18704,0,0,0.20260,1688.053,201.620)" font-family="'Liberation Serif', 'Times New Roman', serif" font-size="200" font-style="italic" fill="#00ff00" stroke="#00ff00" stroke-width="1.797" stroke-linejoin="round">c</text><text transform="matrix(0.11720,0,0,0.13993,1704.986,213.545)" font-family="'Liberation Serif', 'Times New Roman', serif" font-size="200" font-style="italic" fill="#00ff00" stroke="#00ff00" stroke-width="2.722" stroke-linejoin="round">C</text><text transform="matrix(0.12500,0,0,0.13993,1722.925,213.545)" font-family="'Liberation Serif', 'Times New Roman', serif" font-size="200" font-style="italic" fill="#00ff00" stroke="#00ff00" stroke-width="2.642" stroke-linejoin="round">O</text><text transform="matrix(0.12901,0,0,0.11098,1744.243,201.825)" font-family="'Liberation Serif', 'Times New Roman', serif" font-size="200" fill="#00ff00" stroke="#00ff00" stroke-width="2.917" stroke-linejoin="round">2</text><text transform="matrix(0.11964,0,0,0.10261,1742.098,220.220)" font-family="'Liberation Serif', 'Times New Roman', serif" font-size="200" fill="#00ff00" stroke="#00ff00" stroke-width="3.150" stroke-linejoin="round">3</text><text transform="matrix(0.14053,0,0,0.15909,1758.610,204.830)" font-family="'Liberation Serif', 'Times New Roman', serif" font-size="200" fill="#00ff00" stroke="#00ff00" stroke-width="2.336" stroke-linejoin="round">−</text>
<text transform="matrix(0.12849,0,0,0.13803,88.966,81.324)" font-family="'Liberation Sans', Arial, sans-serif" font-size="200" fill="#000" stroke="#000" stroke-width="1.501" stroke-linejoin="round">1.E+00</text>
<text transform="matrix(0.12849,0,0,0.13803,95.673,190.264)" font-family="'Liberation Sans', Arial, sans-serif" font-size="200" fill="#000" stroke="#000" stroke-width="1.501" stroke-linejoin="round">1.E-01</text>
<text transform="matrix(0.12849,0,0,0.13803,95.673,299.204)" font-family="'Liberation Sans', Arial, sans-serif" font-size="200" fill="#000" stroke="#000" stroke-width="1.501" stroke-linejoin="round">1.E-02</text>
<text transform="matrix(0.12849,0,0,0.13803,95.544,408.144)" font-family="'Liberation Sans', Arial, sans-serif" font-size="200" fill="#000" stroke="#000" stroke-width="1.501" stroke-linejoin="round">1.E-03</text>
<text transform="matrix(0.12849,0,0,0.13803,95.159,517.084)" font-family="'Liberation Sans', Arial, sans-serif" font-size="200" fill="#000" stroke="#000" stroke-width="1.501" stroke-linejoin="round">1.E-04</text>
<text transform="matrix(0.12849,0,0,0.13803,95.544,626.024)" font-family="'Liberation Sans', Arial, sans-serif" font-size="200" fill="#000" stroke="#000" stroke-width="1.501" stroke-linejoin="round">1.E-05</text>
<text transform="matrix(0.13363,0,0,0.13803,190.534,663.924)" font-family="'Liberation Sans', Arial, sans-serif" font-size="200" fill="#000" stroke="#000" stroke-width="1.472" stroke-linejoin="round">0</text>
<text transform="matrix(0.13363,0,0,0.13803,238.073,664.200)" font-family="'Liberation Sans', Arial, sans-serif" font-size="200" fill="#000" stroke="#000" stroke-width="1.472" stroke-linejoin="round">1</text>
<text transform="matrix(0.13363,0,0,0.13803,286.347,664.200)" font-family="'Liberation Sans', Arial, sans-serif" font-size="200" fill="#000" stroke="#000" stroke-width="1.472" stroke-linejoin="round">2</text>
<text transform="matrix(0.13363,0,0,0.13803,334.420,663.924)" font-family="'Liberation Sans', Arial, sans-serif" font-size="200" fill="#000" stroke="#000" stroke-width="1.472" stroke-linejoin="round">3</text>
<text transform="matrix(0.13363,0,0,0.13803,382.360,664.062)" font-family="'Liberation Sans', Arial, sans-serif" font-size="200" fill="#000" stroke="#000" stroke-width="1.472" stroke-linejoin="round">4</text>
<text transform="matrix(0.13363,0,0,0.13803,430.234,663.924)" font-family="'Liberation Sans', Arial, sans-serif" font-size="200" fill="#000" stroke="#000" stroke-width="1.472" stroke-linejoin="round">5</text>
<text transform="matrix(0.13363,0,0,0.13803,478.040,663.924)" font-family="'Liberation Sans', Arial, sans-serif" font-size="200" fill="#000" stroke="#000" stroke-width="1.472" stroke-linejoin="round">6</text>
<text transform="matrix(0.13363,0,0,0.13803,526.047,664.200)" font-family="'Liberation Sans', Arial, sans-serif" font-size="200" fill="#000" stroke="#000" stroke-width="1.472" stroke-linejoin="round">7</text>
<text transform="matrix(0.13363,0,0,0.13803,574.054,663.924)" font-family="'Liberation Sans', Arial, sans-serif" font-size="200" fill="#000" stroke="#000" stroke-width="1.472" stroke-linejoin="round">8</text>
<text transform="matrix(0.13363,0,0,0.13803,621.994,663.924)" font-family="'Liberation Sans', Arial, sans-serif" font-size="200" fill="#000" stroke="#000" stroke-width="1.472" stroke-linejoin="round">9</text>
<text transform="matrix(0.13363,0,0,0.13803,661.733,664.200)" font-family="'Liberation Sans', Arial, sans-serif" font-size="200" fill="#000" stroke="#000" stroke-width="1.472" stroke-linejoin="round">1</text><text transform="matrix(0.13363,0,0,0.13803,677.734,663.924)" font-family="'Liberation Sans', Arial, sans-serif" font-size="200" fill="#000" stroke="#000" stroke-width="1.472" stroke-linejoin="round">0</text>
<text transform="matrix(0.13363,0,0,0.13803,709.673,664.200)" font-family="'Liberation Sans', Arial, sans-serif" font-size="200" fill="#000" stroke="#000" stroke-width="1.472" stroke-linejoin="round">1</text><text transform="matrix(0.13363,0,0,0.13803,725.273,664.200)" font-family="'Liberation Sans', Arial, sans-serif" font-size="200" fill="#000" stroke="#000" stroke-width="1.472" stroke-linejoin="round">1</text>
<text transform="matrix(0.13363,0,0,0.13803,757.613,664.200)" font-family="'Liberation Sans', Arial, sans-serif" font-size="200" fill="#000" stroke="#000" stroke-width="1.472" stroke-linejoin="round">1</text><text transform="matrix(0.13363,0,0,0.13803,773.547,664.200)" font-family="'Liberation Sans', Arial, sans-serif" font-size="200" fill="#000" stroke="#000" stroke-width="1.472" stroke-linejoin="round">2</text>
<text transform="matrix(0.13363,0,0,0.13803,805.553,664.200)" font-family="'Liberation Sans', Arial, sans-serif" font-size="200" fill="#000" stroke="#000" stroke-width="1.472" stroke-linejoin="round">1</text><text transform="matrix(0.13363,0,0,0.13803,821.620,663.924)" font-family="'Liberation Sans', Arial, sans-serif" font-size="200" fill="#000" stroke="#000" stroke-width="1.472" stroke-linejoin="round">3</text>
<text transform="matrix(0.13363,0,0,0.13803,853.493,664.200)" font-family="'Liberation Sans', Arial, sans-serif" font-size="200" fill="#000" stroke="#000" stroke-width="1.472" stroke-linejoin="round">1</text><text transform="matrix(0.13363,0,0,0.13803,869.560,664.062)" font-family="'Liberation Sans', Arial, sans-serif" font-size="200" fill="#000" stroke="#000" stroke-width="1.472" stroke-linejoin="round">4</text>
<text transform="matrix(0.12849,0,0,0.13803,1018.966,80.724)" font-family="'Liberation Sans', Arial, sans-serif" font-size="200" fill="#000" stroke="#000" stroke-width="1.501" stroke-linejoin="round">1.E+00</text>
<text transform="matrix(0.12849,0,0,0.13803,1025.673,189.784)" font-family="'Liberation Sans', Arial, sans-serif" font-size="200" fill="#000" stroke="#000" stroke-width="1.501" stroke-linejoin="round">1.E-01</text>
<text transform="matrix(0.12849,0,0,0.13803,1025.673,298.844)" font-family="'Liberation Sans', Arial, sans-serif" font-size="200" fill="#000" stroke="#000" stroke-width="1.501" stroke-linejoin="round">1.E-02</text>
<text transform="matrix(0.12849,0,0,0.13803,1025.544,407.904)" font-family="'Liberation Sans', Arial, sans-serif" font-size="200" fill="#000" stroke="#000" stroke-width="1.501" stroke-linejoin="round">1.E-03</text>
<text transform="matrix(0.12849,0,0,0.13803,1025.159,516.964)" font-family="'Liberation Sans', Arial, sans-serif" font-size="200" fill="#000" stroke="#000" stroke-width="1.501" stroke-linejoin="round">1.E-04</text>
<text transform="matrix(0.12849,0,0,0.13803,1025.544,626.024)" font-family="'Liberation Sans', Arial, sans-serif" font-size="200" fill="#000" stroke="#000" stroke-width="1.501" stroke-linejoin="round">1.E-05</text>
<text transform="matrix(0.13363,0,0,0.13803,1121.484,664.924)" font-family="'Liberation Sans', Arial, sans-serif" font-size="200" fill="#000" stroke="#000" stroke-width="1.472" stroke-linejoin="round">0</text>
<text transform="matrix(0.13363,0,0,0.13803,1169.083,665.200)" font-family="'Liberation Sans', Arial, sans-serif" font-size="200" fill="#000" stroke="#000" stroke-width="1.472" stroke-linejoin="round">1</text>
<text transform="matrix(0.13363,0,0,0.13803,1217.417,665.200)" font-family="'Liberation Sans', Arial, sans-serif" font-size="200" fill="#000" stroke="#000" stroke-width="1.472" stroke-linejoin="round">2</text>
<text transform="matrix(0.13363,0,0,0.13803,1265.550,664.924)" font-family="'Liberation Sans', Arial, sans-serif" font-size="200" fill="#000" stroke="#000" stroke-width="1.472" stroke-linejoin="round">3</text>
<text transform="matrix(0.13363,0,0,0.13803,1313.550,665.062)" font-family="'Liberation Sans', Arial, sans-serif" font-size="200" fill="#000" stroke="#000" stroke-width="1.472" stroke-linejoin="round">4</text>
<text transform="matrix(0.13363,0,0,0.13803,1361.484,664.924)" font-family="'Liberation Sans', Arial, sans-serif" font-size="200" fill="#000" stroke="#000" stroke-width="1.472" stroke-linejoin="round">5</text>
<text transform="matrix(0.13363,0,0,0.13803,1409.350,664.924)" font-family="'Liberation Sans', Arial, sans-serif" font-size="200" fill="#000" stroke="#000" stroke-width="1.472" stroke-linejoin="round">6</text>
<text transform="matrix(0.13363,0,0,0.13803,1457.417,665.200)" font-family="'Liberation Sans', Arial, sans-serif" font-size="200" fill="#000" stroke="#000" stroke-width="1.472" stroke-linejoin="round">7</text>
<text transform="matrix(0.13363,0,0,0.13803,1505.484,664.924)" font-family="'Liberation Sans', Arial, sans-serif" font-size="200" fill="#000" stroke="#000" stroke-width="1.472" stroke-linejoin="round">8</text>
<text transform="matrix(0.13363,0,0,0.13803,1553.484,664.924)" font-family="'Liberation Sans', Arial, sans-serif" font-size="200" fill="#000" stroke="#000" stroke-width="1.472" stroke-linejoin="round">9</text>
<text transform="matrix(0.13363,0,0,0.13803,1593.283,665.200)" font-family="'Liberation Sans', Arial, sans-serif" font-size="200" fill="#000" stroke="#000" stroke-width="1.472" stroke-linejoin="round">1</text><text transform="matrix(0.13363,0,0,0.13803,1609.284,664.924)" font-family="'Liberation Sans', Arial, sans-serif" font-size="200" fill="#000" stroke="#000" stroke-width="1.472" stroke-linejoin="round">0</text>
<text transform="matrix(0.13363,0,0,0.13803,1641.283,665.200)" font-family="'Liberation Sans', Arial, sans-serif" font-size="200" fill="#000" stroke="#000" stroke-width="1.472" stroke-linejoin="round">1</text><text transform="matrix(0.13363,0,0,0.13803,1656.883,665.200)" font-family="'Liberation Sans', Arial, sans-serif" font-size="200" fill="#000" stroke="#000" stroke-width="1.472" stroke-linejoin="round">1</text>
<text transform="matrix(0.13363,0,0,0.13803,1689.283,665.200)" font-family="'Liberation Sans', Arial, sans-serif" font-size="200" fill="#000" stroke="#000" stroke-width="1.472" stroke-linejoin="round">1</text><text transform="matrix(0.13363,0,0,0.13803,1705.217,665.200)" font-family="'Liberation Sans', Arial, sans-serif" font-size="200" fill="#000" stroke="#000" stroke-width="1.472" stroke-linejoin="round">2</text>
<text transform="matrix(0.13363,0,0,0.13803,1737.283,665.200)" font-family="'Liberation Sans', Arial, sans-serif" font-size="200" fill="#000" stroke="#000" stroke-width="1.472" stroke-linejoin="round">1</text><text transform="matrix(0.13363,0,0,0.13803,1753.350,664.924)" font-family="'Liberation Sans', Arial, sans-serif" font-size="200" fill="#000" stroke="#000" stroke-width="1.472" stroke-linejoin="round">3</text>
<text transform="matrix(0.13363,0,0,0.13803,1785.283,665.200)" font-family="'Liberation Sans', Arial, sans-serif" font-size="200" fill="#000" stroke="#000" stroke-width="1.472" stroke-linejoin="round">1</text><text transform="matrix(0.13363,0,0,0.13803,1801.350,665.062)" font-family="'Liberation Sans', Arial, sans-serif" font-size="200" fill="#000" stroke="#000" stroke-width="1.472" stroke-linejoin="round">4</text>

</g>
</svg></body></html>
